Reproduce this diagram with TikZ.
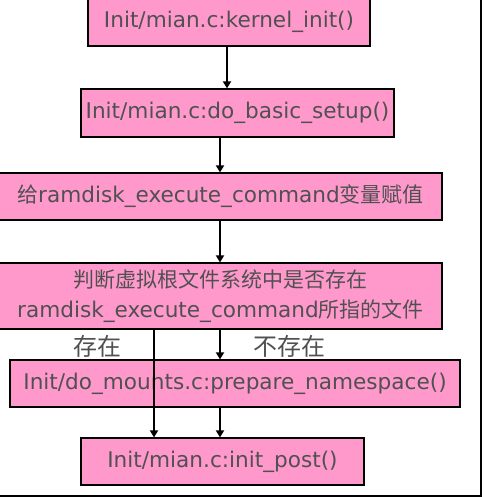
\documentclass[tikz,border=0pt]{standalone}
\usepackage{fontspec}
\usetikzlibrary{arrows.meta}
\setmainfont{DejaVu Sans}
\newfontfamily\cjk{Noto Sans CJK SC}
\definecolor{boxpink}{HTML}{FF99CC}
\definecolor{txtgray}{HTML}{505050}
\newcommand{\zh}[1]{{\cjk\fontsize{21}{30}\selectfont #1}}
\begin{document}
\begin{tikzpicture}[x=1pt,y=-1pt,
  box/.style={draw=black, line width=1.2pt, fill=boxpink, text=txtgray, inner sep=0pt,
    font=\fontsize{21.6}{30}\selectfont, align=center},
  arr/.style={draw=black, line width=2pt, -{Triangle[width=8pt,length=7pt]}},
  lbl/.style={text=txtgray, font=\cjk\fontsize{24}{28}\selectfont, inner sep=0pt}]
\useasboundingbox (0,0) rectangle (483,497);
\node[box, minimum width=282pt, minimum height=48pt] (b1) at (229,22) {Init/mian.c:kernel\_init()};
\node[box, minimum width=313pt, minimum height=48pt] (b2) at (237.5,113) {Init/mian.c:do\_basic\_setup()};
\node[box, minimum width=443pt, minimum height=47pt] (b3) at (220.5,196.5) {\zh{给}ramdisk\_execute\_command\zh{变量赋值}};
\node[box, minimum width=443pt, minimum height=66pt] (b4) at (220.5,296) {\zh{判断虚拟根文件系统中是否存在}\\ramdisk\_execute\_command\zh{所指的文件}};
\node[box, minimum width=450pt, minimum height=47pt] (b5) at (235,383.5) {Init/do\_mounts.c:prepare\_namespace()};
\node[box, minimum width=283pt, minimum height=47pt] (b6) at (222.5,461.5) {Init/mian.c:init\_post()};
\coordinate (xa) at (227,0);
\coordinate (xb) at (220,0);
\coordinate (xc) at (154,0);
\coordinate (fr1) at (481,0);
\coordinate (fr2) at (481,496);
\coordinate (fr3) at (0,496);
\draw[line width=1.2pt] (fr1) -- (fr2) -- (fr3);
\draw[arr] (b1.south -| xa) -- (b2.north -| xa);
\draw[arr] (b2.south -| xb) -- (b3.north -| xb);
\draw[arr] (b3.south -| xb) -- (b4.north -| xb);
\draw[arr] (b4.south -| xb) -- (b5.north -| xb);
\draw[arr] (b4.south -| xc) -- (b6.north -| xc);
\draw[arr] (b5.south -| xb) -- (b6.north -| xb);
\node[lbl] (l1) at (97,346) {存在};
\node[lbl] (l2) at (289,346) {不存在};
\end{tikzpicture}
\end{document}
